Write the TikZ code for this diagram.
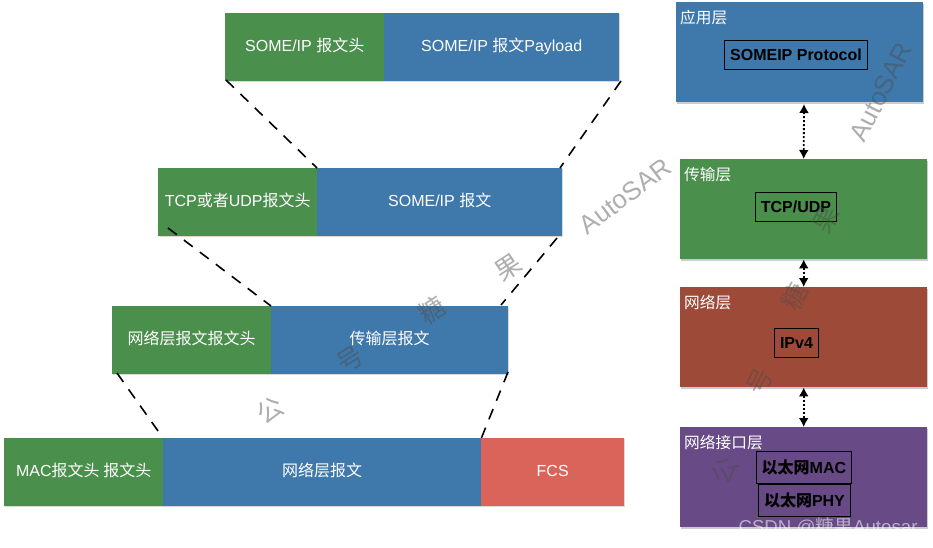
\documentclass[tikz,border=0pt]{standalone}
\usepackage{fontspec}
\setmainfont{Liberation Sans}
\newfontfamily\cjk{Noto Sans CJK SC}
\newcommand{\zh}[1]{{\cjk #1}}
\usetikzlibrary{shadows,arrows.meta}
\definecolor{hdrgreen}{HTML}{4A8F4C}
\definecolor{msgblue}{HTML}{3F78AA}
\definecolor{fcsred}{HTML}{DB645A}
\definecolor{netred}{HTML}{9E4A38}
\definecolor{ifpurple}{HTML}{674A86}
\tikzset{
  pkt/.style={anchor=north west,inner sep=0pt,text=white,text height=13pt,text depth=4pt,font=\fontsize{16}{18}\selectfont,drop shadow={shadow xshift=0.6pt,shadow yshift=-1pt,opacity=.3}},
  layer/.style={anchor=north west,inner sep=0pt,drop shadow={shadow xshift=1pt,shadow yshift=-1.5pt,opacity=.4}},
  layertitle/.style={anchor=north west,inner sep=0pt,text=white,font=\fontsize{15.7}{17}\selectfont},
  proto/.style={draw=black,line width=0.9pt,inner sep=0pt,anchor=north west,font=\bfseries\fontsize{16}{18}\selectfont},
  cut/.style={line width=1.6pt,dash pattern=on 11pt off 9pt},
  link/.style={line width=1.8pt,dash pattern=on 2pt off 2pt,{Latex[length=9pt,width=10pt]}-{Latex[length=9pt,width=10pt]}},
  wmark/.style={text=black!70,opacity=.45,font=\fontsize{26}{28}\selectfont}
}
\begin{document}
\begin{tikzpicture}[x=1pt,y=-1pt]
\useasboundingbox (0,0) rectangle (933,547);
% SOME/IP
\node[pkt,fill=hdrgreen,minimum width=159pt,minimum height=68pt] (somehdr) at (225,13) {SOME/IP \zh{报文头}};
\node[pkt,fill=msgblue,minimum width=235pt,minimum height=68pt] (somemsg) at (384,13) {SOME/IP \zh{报文}Payload};
% TCP
\node[pkt,fill=hdrgreen,minimum width=159pt,minimum height=68pt] (tcphdr) at (158,168) {TCP\zh{或者}UDP\zh{报文头}};
\node[pkt,fill=msgblue,minimum width=245pt,minimum height=68pt] (tcpmsg) at (317,168) {SOME/IP \zh{报文}};
% IP
\node[pkt,fill=hdrgreen,minimum width=159pt,minimum height=68pt] (iphdr) at (112,306) {\zh{网络层报文报文头}};
\node[pkt,fill=msgblue,minimum width=237pt,minimum height=68pt] (ipmsg) at (271,306) {\zh{传输层报文}};
% MAC
\node[pkt,fill=hdrgreen,minimum width=159pt,minimum height=68pt] (machdr) at (4,438) {MAC\zh{报文头 报文头}};
\node[pkt,fill=msgblue,minimum width=318pt,minimum height=68pt] (macmsg) at (163,438) {\zh{网络层报文}};
\node[pkt,fill=fcsred,minimum width=143pt,minimum height=68pt] (fcs) at (481,438) {FCS};
% free ends of the cut lines
\coordinate (a) at (226,80);
\coordinate (b) at (621,81);
\coordinate (c) at (560,168);
\coordinate (d) at (168,228);
\coordinate (e) at (557,238);
\coordinate (f) at (501,305);
\coordinate (g) at (117,373);
\coordinate (h) at (508,372);
\draw[cut] (a) -- (tcpmsg.north west);
\draw[cut] (b) -- (c);
\draw[cut] (d) -- (ipmsg.north west);
\draw[cut] (e) -- (f);
\draw[cut] (g) -- (macmsg.north west);
\draw[cut] (h) -- (macmsg.north east);
% layers
\node[layer,fill=msgblue,minimum width=247pt,minimum height=100pt] (apl) at (676,2) {};
\node[layer,fill=hdrgreen,minimum width=247pt,minimum height=100pt] (trans) at (680,159) {};
\node[layer,fill=netred,minimum width=247pt,minimum height=100pt] (net) at (680,287) {};
\node[layer,fill=ifpurple,minimum width=247pt,minimum height=100pt] (phy) at (680,427) {};
\node[layertitle] (apltitle) at (680,10) {\zh{应用层}};
\node[layertitle] (transtitle) at (684,167) {\zh{传输层}};
\node[layertitle] (nettitle) at (684,295) {\zh{网络层}};
\node[layertitle] (phytitle) at (684,435) {\zh{网络接口层}};
\node[proto,minimum width=143pt,minimum height=29pt] (someip) at (724,40) {SOMEIP Protocol};
\node[proto,minimum width=81pt,minimum height=29pt] (tcpudp) at (755,192) {TCP/UDP};
\node[proto,minimum width=44pt,minimum height=29pt] (ipv4) at (774,328) {IPv4};
\node[proto,minimum width=95pt,minimum height=32pt] (ethmac) at (756,451) {\zh{\bfseries 以太网}MAC};
\node[proto,minimum width=92pt,minimum height=32pt] (ethphy) at (758,484) {\zh{\bfseries 以太网}PHY};
\coordinate (l1) at (804,104);
\draw[link] (l1) -- (trans.north);
\draw[link] (trans.south) -- (net.north);
\draw[link] (net.south) -- (phy.north);
% watermark
\node[wmark,rotate=37] (w1) at (625,196) {AutoSAR};
\node[wmark,rotate=33] (w2) at (508,268) {\zh{果}};
\node[wmark,rotate=33] (w3) at (432,310) {\zh{糖}};
\node[wmark,rotate=33] (w4) at (350,360) {\zh{号}};
\node[wmark,rotate=33] (w5) at (270,410) {\zh{公}};
\node[wmark,rotate=63] (w6) at (881,92) {AutoSAR};
\node[wmark,rotate=63] (w7) at (826,220) {\zh{果}};
\node[wmark,rotate=63] (w8) at (795,296) {\zh{糖}};
\node[wmark,rotate=63] (w9) at (760,382) {\zh{号}};
\node[wmark,rotate=63] (w10) at (725,471) {\zh{公}};
\node[text=white,opacity=.55,font=\fontsize{18.7}{20}\selectfont] (csdn) at (828,527) {CSDN @\zh{糖果}Autosar};
\end{tikzpicture}
\end{document}
